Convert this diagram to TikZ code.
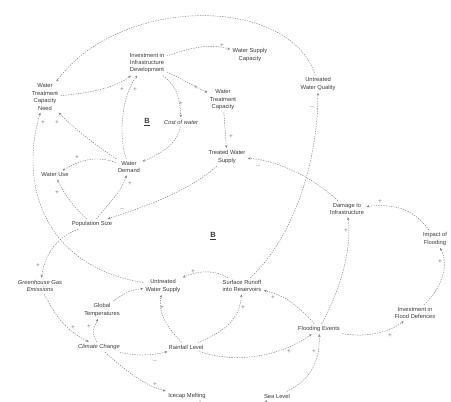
\documentclass[tikz,border=0pt]{standalone}
\usepackage{fontspec}
\setmainfont{Liberation Sans}
\usetikzlibrary{arrows.meta}
\definecolor{txt}{HTML}{3A3A3A}
\definecolor{lnk}{HTML}{7F7F7F}
\tikzset{
  var/.style={align=center, font=\fontsize{5.8}{7.4}\selectfont, text=txt, inner sep=2.3pt},
  ivar/.style={var, font=\fontsize{5.8}{7.4}\selectfont\itshape},
  link/.style={draw=lnk, line width=0.45pt, dash pattern=on 1.3pt off 1.2pt,
     -{Stealth[length=2.8pt,width=2.4pt,fill=lnk]}},
  sgn/.style={font=\fontsize{6.5}{6.5}\selectfont, text=lnk, inner sep=0pt},
  loopB/.style={font=\fontsize{7.5}{8}\selectfont\bfseries, text=txt, inner sep=0pt}
}
\begin{document}
\begin{tikzpicture}[x=1pt,y=-1pt]
\useasboundingbox (0,0) rectangle (451,402);
% variables
\node[var] (inv) at (147,63) {Investment in\\Infrastructure\\Development};
\node[var] (wsc) at (250,55) {Water Supply\\Capacity};
\node[var] (uwq) at (318,84) {Untreated\\Water Quality};
\node[var] (wtcn) at (45,97) {Water\\Treatment\\Capacity\\Need};
\node[var] (wtc) at (223,100) {Water\\Treatment\\Capacity};
\node[ivar] (cost) at (181,122) {Cost of water};
\node[var] (tws) at (227,157) {Treated Water\\Supply};
\node[var] (wd) at (129,167) {Water\\Demand};
\node[var] (wu) at (55,175) {Water Use};
\node[var] (dmg) at (347,209) {Damage to\\Infrastructure};
\node[var] (imp) at (435,239) {Impact of\\Flooding};
\node[var] (pop) at (92,224) {Population Size};
\node[ivar] (ghg) at (40,286) {Greenhouse Gas\\Emissions};
\node[var] (uws) at (163,286) {Untreated\\Water Supply};
\node[var] (sr) at (242,286) {Surface Runoff\\into Reservoirs};
\node[var] (gt) at (102,310) {Global\\Temperatures};
\node[var] (ifd) at (415,313) {Investment in\\Flood Defences};
\node[var] (fe) at (319,329) {Flooding Events};
\node[ivar] (cc) at (99,347) {Climate Change};
\node[var] (rl) at (186,347) {Rainfall Level};
\node[var] (ice) at (187,396) {Icecap Melting};
\node[var] (sea) at (277,396) {Sea Level};
% loop labels
\node[loopB] (b1) at (147,122) {\underline{B}};
\node[loopB] (b2) at (213,236) {\underline{B}};
% links
\draw[link] (inv) .. controls (195,46) and (212,44) .. (wsc);
\draw[link] (inv) .. controls (180,78) and (190,84) .. (wtc);
\draw[link] (inv) .. controls (175,85) and (180,95) .. (cost);
\draw[link] (cost) .. controls (178,142) and (165,152) .. (wd);
\draw[link] (wd) .. controls (118,135) and (122,95) .. (inv);
\draw[link] (wtcn) .. controls (90,93) and (115,88) .. (inv);
\draw[link] (uwq) .. controls (290,-5) and (120,-5) .. (wtcn);
\draw[link] (wd) .. controls (95,145) and (70,125) .. (wtcn);
\draw[link] (wd) .. controls (100,157) and (85,157) .. (wu);
\draw[link] (uws) .. controls (40,265) and (20,180) .. (wtcn);
\draw[link] (pop) .. controls (72,205) and (65,195) .. (wu);
\draw[link] (pop) .. controls (112,200) and (122,190) .. (wd);
\draw[link] (tws) .. controls (190,190) and (150,205) .. (pop);
\draw[link] (wtc) -- (tws);
\draw[link] (dmg) .. controls (310,175) and (275,160) .. (tws);
\draw[link] (sr) .. controls (300,230) and (318,150) .. (uwq);
\draw[link] (imp) .. controls (415,210) and (395,203) .. (dmg);
\draw[link] (ifd) .. controls (445,285) and (448,262) .. (imp);
\draw[link] (fe) .. controls (360,337) and (385,335) .. (ifd);
\draw[link] (fe) .. controls (340,290) and (352,250) .. (dmg);
\draw[link] (fe) .. controls (298,306) and (285,295) .. (sr);
\draw[link] (rl) .. controls (230,330) and (240,315) .. (sr);
\draw[link] (rl) .. controls (165,325) and (158,312) .. (uws);
\draw[link] (sr) .. controls (215,270) and (200,270) .. (uws);
\draw[link] (rl) .. controls (230,362) and (275,360) .. (fe);
\draw[link] (cc) .. controls (135,356) and (150,356) .. (rl);
\draw[link] (cc) .. controls (125,370) and (145,386) .. (ice);
\draw[link] (ice) .. controls (225,412) and (245,412) .. (sea);
\draw[link] (sea) .. controls (315,378) and (320,355) .. (fe);
\draw[link] (ghg) .. controls (55,315) and (65,330) .. (cc);
\draw[link] (cc) .. controls (92,332) .. (gt);
\draw[link] (gt) .. controls (125,292) and (132,290) .. (uws);
\draw[link] (pop) .. controls (55,238) and (45,255) .. (ghg);
% polarity signs
\node[sgn] (s1) at (222,46) {+};
\node[sgn] (s2) at (196,88) {+};
\node[sgn] (s3) at (181,104) {+};
\node[sgn] (s4) at (135,90) {+};
\node[sgn] (s5) at (122,90) {+};
\node[sgn] (s6) at (57,123) {+};
\node[sgn] (s7) at (43,123) {+};
\node[sgn] (s8) at (77,158) {+};
\node[sgn] (s9) at (57,193) {+};
\node[sgn] (s10) at (130,184) {+};
\node[sgn] (s11) at (122,209) {$-$};
\node[sgn] (s12) at (231,137) {+};
\node[sgn] (s13) at (258,166) {$-$};
\node[sgn] (s14) at (312,107) {$-$};
\node[sgn] (s15) at (380,202) {+};
\node[sgn] (s16) at (440,262) {+};
\node[sgn] (s17) at (390,336) {+};
\node[sgn] (s18) at (346,231) {+};
\node[sgn] (s19) at (273,298) {+};
\node[sgn] (s20) at (243,308) {+};
\node[sgn] (s21) at (162,308) {+};
\node[sgn] (s22) at (193,272) {+};
\node[sgn] (s23) at (289,352) {+};
\node[sgn] (s24) at (155,361) {$-$};
\node[sgn] (s25) at (155,385) {+};
\node[sgn] (s26) at (314,352) {+};
\node[sgn] (s27) at (73,328) {+};
\node[sgn] (s28) at (89,327) {+};
\node[sgn] (s29) at (38,266) {+};
\end{tikzpicture}
\end{document}
